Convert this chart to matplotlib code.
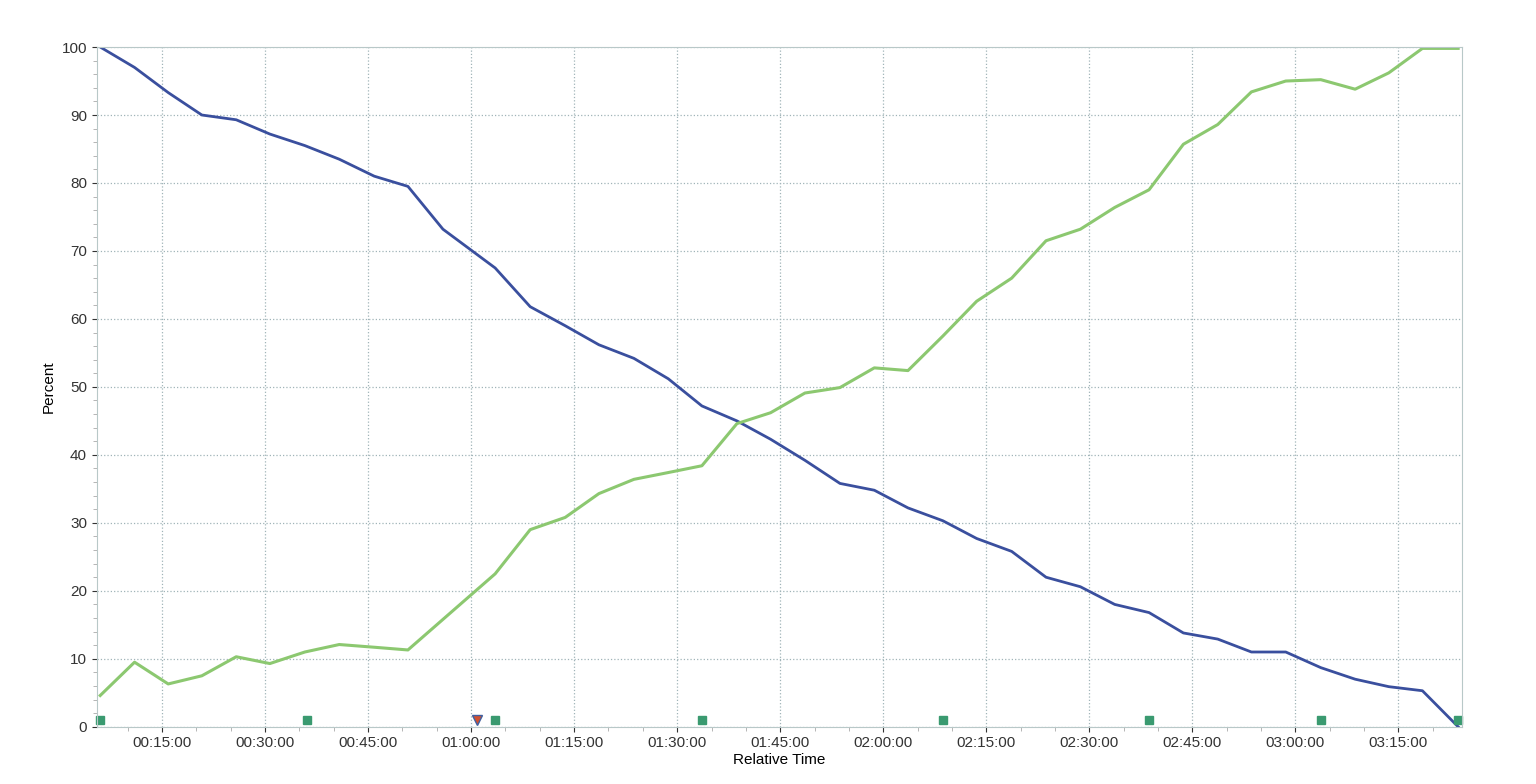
import matplotlib.pyplot as plt
import numpy as np
from matplotlib.ticker import MultipleLocator, FuncFormatter

plt.rcParams['font.family'] = ['Liberation Sans', 'DejaVu Sans']

# sample times (minutes) and values
blue_t = [6.0, 11.0, 15.9, 20.8, 25.8, 30.7, 35.8, 40.8, 45.9, 50.8, 55.9,
          63.5, 68.6, 73.7, 78.6, 83.7, 88.7, 93.6, 98.7, 103.6, 108.6, 113.7,
          118.7, 123.6, 128.7, 133.6, 138.7, 143.7, 148.7, 153.7, 158.7, 163.7,
          168.7, 173.6, 178.6, 183.7, 188.7, 193.6, 198.5, 203.7]
blue_v = [100, 97, 93.3, 90, 89.3, 87.2, 85.5, 83.5, 81, 79.5, 73.2,
          67.5, 61.8, 59, 56.2, 54.2, 51.2, 47.2, 45, 42.3, 39.2, 35.8,
          34.8, 32.2, 30.3, 27.7, 25.8, 22, 20.6, 18, 16.8, 13.8,
          12.9, 11, 11, 8.7, 7, 5.9, 5.3, 0]
green_t = [6.0, 11.0, 15.9, 20.8, 25.8, 30.7, 35.8, 40.8, 45.9, 50.8,
           63.5, 68.6, 73.7, 78.6, 83.7, 88.7, 93.6, 98.7, 103.6, 108.6, 113.7,
           118.7, 123.6, 128.7, 133.6, 138.7, 143.7, 148.7, 153.7, 158.7, 163.7,
           168.7, 173.6, 178.6, 183.7, 188.7, 193.6, 198.5, 203.7]
green_v = [4.6, 9.5, 6.3, 7.5, 10.3, 9.3, 11, 12.1, 11.7, 11.3,
           22.5, 29, 30.8, 34.3, 36.4, 37.4, 38.4, 44.6, 46.2, 49.1, 49.9,
           52.8, 52.4, 57.5, 62.6, 66, 71.5, 73.2, 76.4, 79, 85.7,
           88.6, 93.4, 95, 95.2, 93.8, 96.2, 99.8, 99.8]
flag_t = [6.0, 36.1, 63.5, 93.6, 128.7, 158.7, 183.7, 203.7]
alert_t = [60.9]


def fmt(m, pos):
    m = int(round(m))
    return f"{m // 60:02d}:{m % 60:02d}:00"


fig, ax = plt.subplots(figsize=(15.36, 7.84), dpi=100)
fig.subplots_adjust(left=0.063, right=0.952, top=0.94, bottom=0.073)

ax.plot(blue_t, blue_v, color='#3a4f9e', linewidth=2)
ax.plot(green_t, green_v, color='#8cc870', linewidth=2.2)
ax.plot(flag_t, [1] * len(flag_t), 's', color='#3a9a70', markersize=6, clip_on=False)
ax.plot(alert_t, [1] * len(alert_t), 'v', color='#d05030', markeredgecolor='#4060a0',
        markersize=7, clip_on=False)

ax.set_xlim(5.5, 204.3)
ax.set_ylim(0, 100)
ax.xaxis.set_major_locator(MultipleLocator(15))
ax.xaxis.set_minor_locator(MultipleLocator(5))
ax.xaxis.set_major_formatter(FuncFormatter(fmt))
ax.yaxis.set_major_locator(MultipleLocator(10))
ax.yaxis.set_minor_locator(MultipleLocator(2))
ax.grid(True, which='major', linestyle=':', color='#a0b4b8', linewidth=0.9)
ax.tick_params(labelsize=11, colors='#333333')
ax.tick_params(which='minor', length=3, color='#aaaaaa')
for s in ax.spines.values():
    s.set_color('#b8c8c8')
ax.set_xlabel('Relative Time', fontsize=11, labelpad=2)
ax.set_ylabel('Percent', fontsize=11)

plt.savefig('out.png', dpi=100)
